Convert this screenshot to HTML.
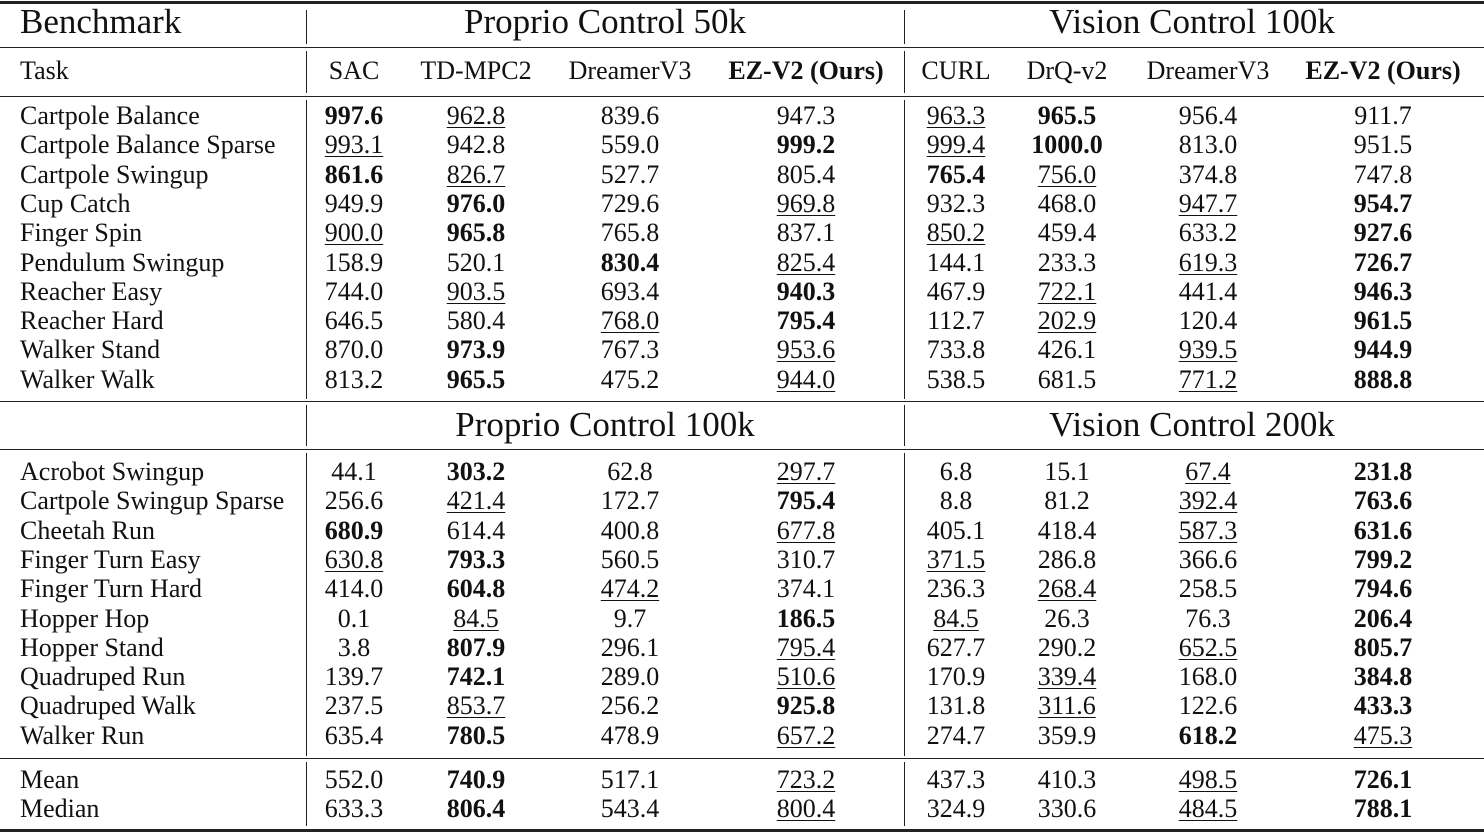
<!DOCTYPE html>
<html><head><meta charset="utf-8">
<style>
body{margin:0;width:1484px;height:835px;background:#fff;position:relative;overflow:hidden;font-family:"Liberation Serif",serif;color:#111}
.t{position:absolute;white-space:nowrap;font-size:26px;line-height:30px}
.c{transform:translateX(-50%)}
.h{font-size:35px;line-height:40px}
.r{position:absolute;left:0;width:1484px;background:#222}
.v{position:absolute;width:1.3px;background:#222}
b{font-weight:bold}
u{text-decoration:underline;text-decoration-thickness:1.3px;text-underline-offset:3px}
</style></head><body>
<div class="r" style="top:1px;height:2.5px"></div>
<div class="r" style="top:47px;height:1.4px"></div>
<div class="r" style="top:96px;height:1.4px"></div>
<div class="r" style="top:401px;height:1.4px"></div>
<div class="r" style="top:449px;height:1.4px"></div>
<div class="r" style="top:758px;height:1.4px"></div>
<div class="r" style="top:829px;height:2.5px"></div>
<div id="root"></div>
<script>
const colX=[354,476,630,806,956,1067,1208,1383];
const heads=["SAC","TD-MPC2","DreamerV3","*EZ-V2 (Ours)","CURL","DrQ-v2","DreamerV3","*EZ-V2 (Ours)"];
const tasks1=["Cartpole Balance","Cartpole Balance Sparse","Cartpole Swingup","Cup Catch","Finger Spin","Pendulum Swingup","Reacher Easy","Reacher Hard","Walker Stand","Walker Walk"];
const vals1=[
["*997.6","_962.8","839.6","947.3","_963.3","*965.5","956.4","911.7"],
["_993.1","942.8","559.0","*999.2","_999.4","*1000.0","813.0","951.5"],
["*861.6","_826.7","527.7","805.4","*765.4","_756.0","374.8","747.8"],
["949.9","*976.0","729.6","_969.8","932.3","468.0","_947.7","*954.7"],
["_900.0","*965.8","765.8","837.1","_850.2","459.4","633.2","*927.6"],
["158.9","520.1","*830.4","_825.4","144.1","233.3","_619.3","*726.7"],
["744.0","_903.5","693.4","*940.3","467.9","_722.1","441.4","*946.3"],
["646.5","580.4","_768.0","*795.4","112.7","_202.9","120.4","*961.5"],
["870.0","*973.9","767.3","_953.6","733.8","426.1","_939.5","*944.9"],
["813.2","*965.5","475.2","_944.0","538.5","681.5","_771.2","*888.8"]];
const tasks2=["Acrobot Swingup","Cartpole Swingup Sparse","Cheetah Run","Finger Turn Easy","Finger Turn Hard","Hopper Hop","Hopper Stand","Quadruped Run","Quadruped Walk","Walker Run"];
const vals2=[
["44.1","*303.2","62.8","_297.7","6.8","15.1","_67.4","*231.8"],
["256.6","_421.4","172.7","*795.4","8.8","81.2","_392.4","*763.6"],
["*680.9","614.4","400.8","_677.8","405.1","418.4","_587.3","*631.6"],
["_630.8","*793.3","560.5","310.7","_371.5","286.8","366.6","*799.2"],
["414.0","*604.8","_474.2","374.1","236.3","_268.4","258.5","*794.6"],
["0.1","_84.5","9.7","*186.5","_84.5","26.3","76.3","*206.4"],
["3.8","*807.9","296.1","_795.4","627.7","290.2","_652.5","*805.7"],
["139.7","*742.1","289.0","_510.6","170.9","_339.4","168.0","*384.8"],
["237.5","_853.7","256.2","*925.8","131.8","_311.6","122.6","*433.3"],
["635.4","*780.5","478.9","_657.2","274.7","359.9","*618.2","_475.3"]];
const tasks3=["Mean","Median"];
const vals3=[
["552.0","*740.9","517.1","_723.2","437.3","410.3","_498.5","*726.1"],
["633.3","*806.4","543.4","_800.4","324.9","330.6","_484.5","*788.1"]];
const root=document.getElementById('root');
function fmt(s){if(s[0]=='*')return '<b>'+s.slice(1)+'</b>';if(s[0]=='_')return '<u>'+s.slice(1)+'</u>';return s;}
function txt(html,x,y,center,name){const d=document.createElement('div');d.className='t'+(center?' c':'');d.style.left=x+'px';d.style.top=(y-15)+'px';d.innerHTML=html;


root.appendChild(d);}
function vline(x,y0,y1,name){const d=document.createElement('div');d.className='v';d.style.left=x+'px';d.style.top=y0+'px';d.style.height=(y1-y0)+'px';


root.appendChild(d);}
function hdr(html,x,y,center,name){const d=document.createElement('div');d.className='t h'+(center?' c':'');d.style.left=x+'px';d.style.top=(y-20)+'px';d.innerHTML=html;


root.appendChild(d);}
hdr('Benchmark',20,22,false,'benchmark-header');
hdr('Proprio Control 50k',605,22,true,'proprio-50k-header');
hdr('Vision Control 100k',1192,22,true,'vision-100k-header');
hdr('Proprio Control 100k',605,425,true,'proprio-100k-header');
hdr('Vision Control 200k',1192,425,true,'vision-200k-header');
txt('Task',20,71,false,'task-header');
heads.forEach((h,i)=>txt(fmt(h),colX[i],71,true,'column-header'));
function block(tasks,vals,y0,dy,pre){tasks.forEach((t,r)=>{const y=y0+r*dy;txt(t,20,y,false,pre+'-task');vals[r].forEach((v,i)=>txt(fmt(v),colX[i],y,true,pre+'-value'));});}
block(tasks1,vals1,116,29.3,'block1');
block(tasks2,vals2,472,29.3,'block2');
block(tasks3,vals3,780,29,'summary');
[306,904].forEach(x=>{vline(x,10,44,'col-separator');vline(x,51,93,'col-separator');vline(x,100,399,'col-separator');vline(x,405,446,'col-separator');vline(x,453,756,'col-separator');vline(x,762,826,'col-separator');});
</script>
</body></html>
